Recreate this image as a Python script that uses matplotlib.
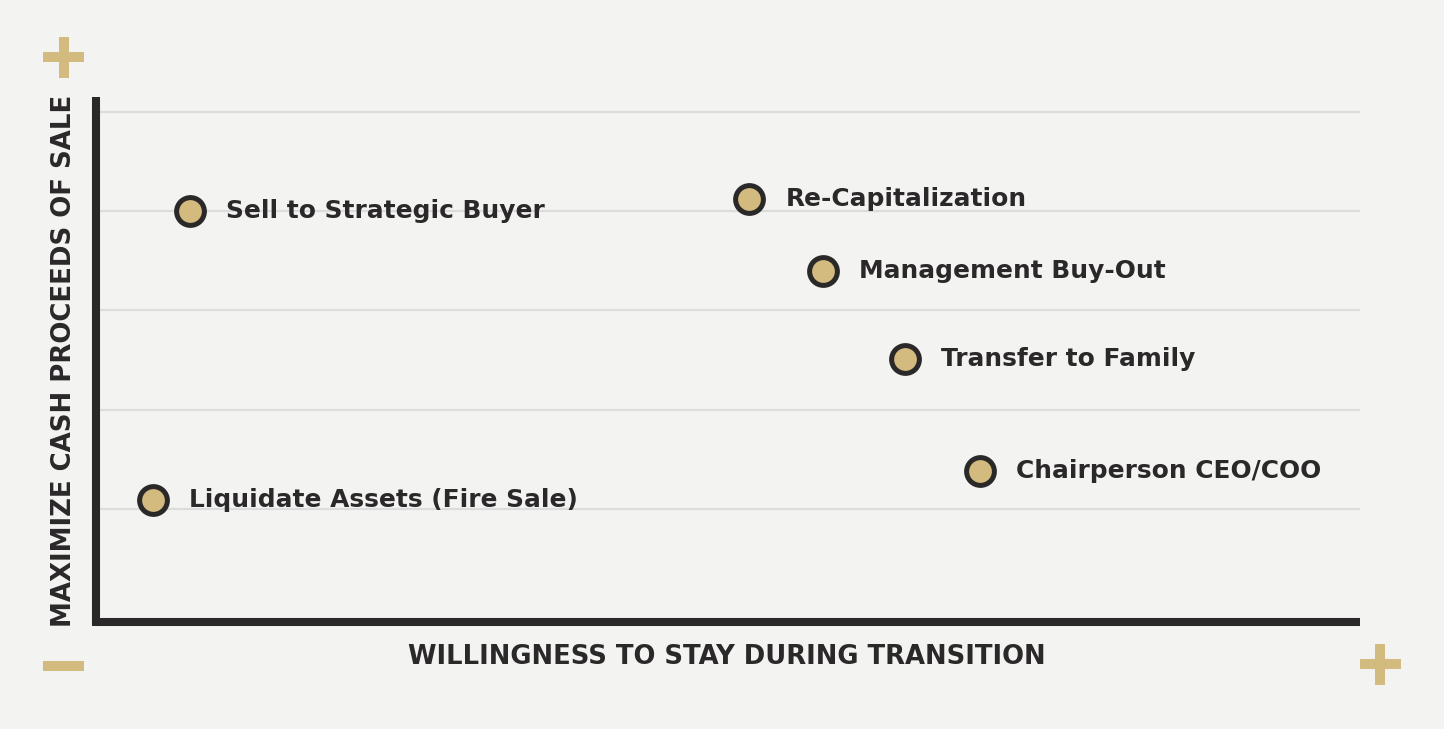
import matplotlib
matplotlib.use("Agg")
import matplotlib.pyplot as plt
from matplotlib.patches import Rectangle

# --- data ---
options = ["Sell to Strategic Buyer", "Re-Capitalization", "Management Buy-Out",
           "Transfer to Family", "Chairperson CEO/COO", "Liquidate Assets (Fire Sale)"]
willingness = [7.4, 51.7, 57.5, 64.0, 69.9, 4.5]
cash_proceeds = [4.0, 4.12, 3.40, 2.51, 1.38, 1.09]
grid_levels = [1, 2, 3, 4, 5]

x_title = "WILLINGNESS TO STAY DURING TRANSITION"
y_title = "MAXIMIZE CASH PROCEEDS OF SALE"

BG = "#f3f3f1"
GOLD = "#d3bb7f"
DARK = "#2a2828"
GRID = "#dcdcdc"

plt.rcParams['font.family'] = ['DejaVu Sans']

W, H = 1444, 729
fig = plt.figure(figsize=(W / 100, H / 100), dpi=100, facecolor=BG)

# axes box in pixel terms: left 96, right 1360, top 97, bottom 622
ax = fig.add_axes([96 / W, (H - 622) / H, (1360 - 96) / W, (622 - 97) / H])
ax.set_facecolor(BG)
ymin, ymax = -0.139, 5.151
ax.set_xlim(0, 100)
ax.set_ylim(ymin, ymax)

for lvl in grid_levels:
    ax.axhline(lvl, color=GRID, lw=1.6, zorder=1)

ax.scatter(willingness, cash_proceeds, s=20 ** 2, color=GOLD, edgecolor=DARK,
           linewidth=3.6, zorder=3)

for name, x, y in zip(options, willingness, cash_proceeds):
    ax.annotate(name, (x, y), xytext=(26, 0), textcoords="offset points",
                ha="left", va="center", fontsize=17.9, fontweight="bold",
                color=DARK, zorder=4)

for side in ["top", "right"]:
    ax.spines[side].set_visible(False)
for side in ["left", "bottom"]:
    ax.spines[side].set_linewidth(5.8)
    ax.spines[side].set_color(DARK)
    ax.spines[side].set_capstyle("butt")
# let the y axis run past the corner so the two bars join squarely
px_per_unit = (622 - 97) / (ymax - ymin)
ax.spines["left"].set_bounds(ymin - 4 / px_per_unit, ymax)
ax.set_xticks([])
ax.set_yticks([])

fig.text(727 / W, 1 - 657 / H, x_title, ha="center", va="center",
         fontsize=18.6, fontweight="bold", color=DARK)
fig.text(64 / W, 1 - 361 / H, y_title, ha="center", va="center", rotation=90,
         fontsize=18.7, fontweight="bold", color=DARK)


# plus / minus corner marks
def bar(cx, cy, w, h):
    fig.add_artist(Rectangle(((cx - w / 2) / W, 1 - (cy + h / 2) / H), w / W, h / H,
                             transform=fig.transFigure, color=GOLD, lw=0))


def plus(cx, cy):
    bar(cx, cy, 41, 10)
    bar(cx, cy, 10, 41)


plus(63.5, 57)
bar(63.5, 665.5, 41, 10)
plus(1380, 664)

fig.savefig("out.png", dpi=100, facecolor=BG)
